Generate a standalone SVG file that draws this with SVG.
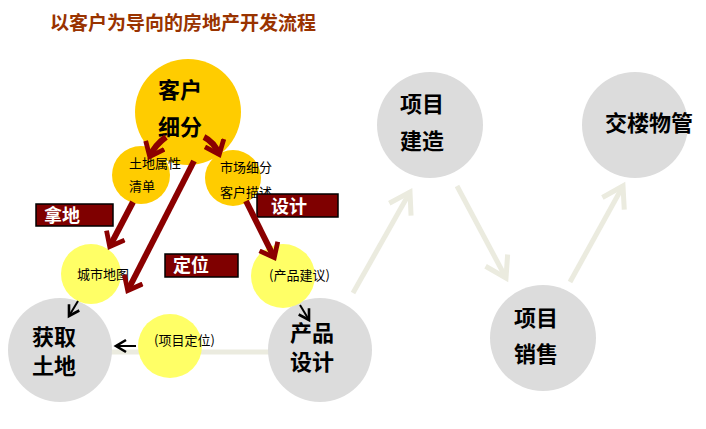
<svg xmlns="http://www.w3.org/2000/svg" width="706" height="429" viewBox="0 0 706 429">
<defs>
<marker id="ra" markerWidth="4" markerHeight="4" refX="2.2" refY="2" orient="auto" markerUnits="strokeWidth"><path d="M0.2,0.3 L2.3,2 L0.2,3.7" fill="none" stroke="#8b0000" stroke-width="0.8"/></marker>
<marker id="ba" markerWidth="8" markerHeight="8" refX="6" refY="4" orient="auto" markerUnits="strokeWidth"><path d="M1,1 L6,4 L1,7" fill="none" stroke="#000" stroke-width="1.3"/></marker>
<marker id="ga" markerWidth="6" markerHeight="6" refX="4.5" refY="3" orient="auto" markerUnits="strokeWidth"><path d="M0.5,0.5 L4.5,3 L0.5,5.5" fill="none" stroke="#ebebdf" stroke-width="1"/></marker>
</defs>
<style>
.t{font-family:"Noto Sans CJK SC","Liberation Sans",sans-serif;fill:#000}
.big{font-size:22px;font-weight:bold}
.sm{font-size:13px}
.gray{fill:#dcdcdc}
.lab{fill:#7f0000;stroke:#000;stroke-width:1.5}
.lt{font-family:"Noto Sans CJK SC",sans-serif;font-size:18px;font-weight:bold;fill:#fff}
.red{stroke:#8b0000;stroke-width:6;fill:none;marker-end:url(#ra)}
.blk{stroke:#000;stroke-width:2;fill:none;marker-end:url(#ba)}
.bg{stroke:#ebebdf;stroke-width:5;fill:none}
</style>
<rect width="706" height="429" fill="#fff"/>
<text x="50" y="30" font-family="'Noto Sans CJK SC',serif" font-size="19" font-weight="bold" fill="#993300">以客户为导向的房地产开发流程</text>
<g id="connectors-bg">
<line class="bg" x1="110" y1="352" x2="270" y2="352"/>
<line class="bg" x1="353" y1="293" x2="410" y2="192" marker-end="url(#ga)"/>
<line class="bg" x1="457" y1="186" x2="506" y2="278" marker-end="url(#ga)"/>
<line class="bg" x1="570" y1="282" x2="623" y2="186" marker-end="url(#ga)"/>
</g>
<g id="n-huoqu"><circle class="gray" cx="60" cy="350" r="52"/><text class="t big" x="32" y="345">获取</text><text class="t big" x="32" y="374">土地</text></g>
<g id="n-chanpin"><circle class="gray" cx="320" cy="350" r="52"/><text class="t big" x="290" y="341">产品</text><text class="t big" x="290" y="370">设计</text></g>
<g id="n-jianzao"><circle class="gray" cx="430" cy="125" r="53"/><text class="t big" x="400" y="112">项目</text><text class="t big" x="400" y="149">建造</text></g>
<g id="n-xiaoshou"><circle class="gray" cx="543" cy="338" r="53"/><text class="t big" x="514" y="326">项目</text><text class="t big" x="514" y="362">销售</text></g>
<g id="n-jiaolou"><circle class="gray" cx="635" cy="125" r="53"/><text class="t big" x="605" y="131">交楼物管</text></g>
<g id="n-kehu"><circle cx="188" cy="112" r="53" fill="#ffcc00"/><text class="t big" x="158" y="98">客户</text><text class="t big" x="158" y="135">细分</text></g>
<g id="n-tudi"><circle cx="141" cy="175" r="29" fill="#ffcc00"/><text class="t sm" x="129" y="168">土地属性</text><text class="t sm" x="129" y="191">清单</text></g>
<g id="n-shichang"><circle cx="233" cy="178" r="28" fill="#ffcc00"/><text class="t sm" x="220" y="172">市场细分</text><text class="t sm" x="220" y="197">客户描述</text></g>
<g id="n-chengshi"><circle cx="91" cy="274" r="30" fill="#ffff66"/><text class="t sm" x="77" y="279">城市地图</text></g>
<g id="n-jianyi"><circle cx="283" cy="276" r="32" fill="#ffff66"/><text class="t sm" x="269" y="280">(产品建议)</text></g>
<g id="n-dingwei"><circle cx="170" cy="346" r="32" fill="#ffff66"/><text class="t sm" x="154" y="345">(项目定位)</text></g>
<g id="labels">
<rect class="lab" x="36" y="204" width="77" height="22"/><text class="lt" x="44" y="222">拿地</text>
<rect class="lab" x="257" y="194" width="81" height="23"/><text class="lt" x="271" y="213">设计</text>
<rect class="lab" x="165" y="254" width="73" height="23"/><text class="lt" x="173" y="272">定位</text>
</g>
<g id="connectors">
<path class="red" d="M166,137 Q155,145 150,156"/>
<path class="red" d="M204,137 Q214,142 219,154"/>
<line class="red" x1="194" y1="161" x2="128" y2="290"/>
<line class="red" x1="133" y1="202" x2="110" y2="246"/>
<line class="red" x1="246" y1="201" x2="274" y2="257"/>
<line class="blk" x1="78" y1="301" x2="69" y2="316"/>
<line class="blk" x1="300" y1="305" x2="309" y2="320"/>
<line class="blk" x1="136" y1="346" x2="116" y2="346"/>
</g>
</svg>
